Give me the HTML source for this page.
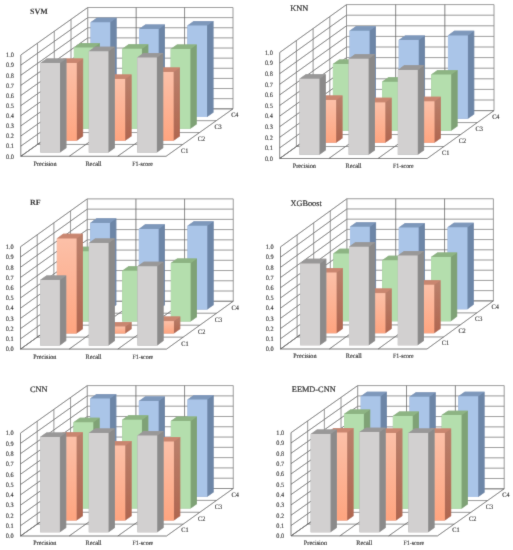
<!DOCTYPE html>
<html><head><meta charset="utf-8"><style>
html,body{margin:0;padding:0;background:#fff;width:513px;height:550px;overflow:hidden}
svg{display:block}
text{font-family:"Liberation Serif",serif;fill:#000;stroke:#000;stroke-width:0.09;text-rendering:geometricPrecision}
.t{font-weight:bold;stroke-width:0.02}
.r{stroke-width:0.16}
</style></head><body>
<svg width="513" height="550" viewBox="0 0 513 550">
<defs>
<linearGradient id="og" x1="0" y1="0" x2="0" y2="1"><stop offset="0" stop-color="#FCC0A8"/><stop offset="1" stop-color="#FEA47F"/></linearGradient>
<linearGradient id="os" x1="0" y1="0" x2="0" y2="1"><stop offset="0" stop-color="#BA806C"/><stop offset="1" stop-color="#B0664F"/></linearGradient>
<filter id="bl" x="0" y="0" width="513" height="550" filterUnits="userSpaceOnUse"><feConvolveMatrix order="3" kernelMatrix="0.0113 0.0838 0.0113 0.0838 0.6193 0.0838 0.0113 0.0838 0.0113" divisor="1" edgeMode="duplicate"/></filter>
</defs>
<rect width="513" height="550" fill="#fff"/>
<g filter="url(#bl)">
<rect width="513" height="550" fill="#fff"/>
<line x1="87.75" y1="108.8" x2="233" y2="108.8" stroke="#959595" stroke-width="1"/>
<line x1="87.75" y1="98.67" x2="233" y2="98.67" stroke="#959595" stroke-width="1"/>
<line x1="87.75" y1="88.54" x2="233" y2="88.54" stroke="#959595" stroke-width="1"/>
<line x1="87.75" y1="78.41" x2="233" y2="78.41" stroke="#959595" stroke-width="1"/>
<line x1="87.75" y1="68.28" x2="233" y2="68.28" stroke="#959595" stroke-width="1"/>
<line x1="87.75" y1="58.15" x2="233" y2="58.15" stroke="#959595" stroke-width="1"/>
<line x1="87.75" y1="48.02" x2="233" y2="48.02" stroke="#959595" stroke-width="1"/>
<line x1="87.75" y1="37.89" x2="233" y2="37.89" stroke="#959595" stroke-width="1"/>
<line x1="87.75" y1="27.76" x2="233" y2="27.76" stroke="#959595" stroke-width="1"/>
<line x1="87.75" y1="17.63" x2="233" y2="17.63" stroke="#959595" stroke-width="1"/>
<line x1="87.75" y1="7.5" x2="233" y2="7.5" stroke="#959595" stroke-width="1"/>
<line x1="136.17" y1="108.8" x2="136.17" y2="7.5" stroke="#6E6E6E" stroke-width="0.9"/>
<line x1="184.58" y1="108.8" x2="184.58" y2="7.5" stroke="#6E6E6E" stroke-width="0.9"/>
<line x1="233" y1="108.8" x2="233" y2="7.5" stroke="#8A8A8A" stroke-width="0.9"/>
<line x1="20.8" y1="156.3" x2="87.75" y2="108.8" stroke="#4A4A4A" stroke-width="0.8"/>
<line x1="20.8" y1="146.17" x2="87.75" y2="98.67" stroke="#4A4A4A" stroke-width="0.8"/>
<line x1="20.8" y1="136.04" x2="87.75" y2="88.54" stroke="#4A4A4A" stroke-width="0.8"/>
<line x1="20.8" y1="125.91" x2="87.75" y2="78.41" stroke="#4A4A4A" stroke-width="0.8"/>
<line x1="20.8" y1="115.78" x2="87.75" y2="68.28" stroke="#4A4A4A" stroke-width="0.8"/>
<line x1="20.8" y1="105.65" x2="87.75" y2="58.15" stroke="#4A4A4A" stroke-width="0.8"/>
<line x1="20.8" y1="95.52" x2="87.75" y2="48.02" stroke="#4A4A4A" stroke-width="0.8"/>
<line x1="20.8" y1="85.39" x2="87.75" y2="37.89" stroke="#4A4A4A" stroke-width="0.8"/>
<line x1="20.8" y1="75.26" x2="87.75" y2="27.76" stroke="#4A4A4A" stroke-width="0.8"/>
<line x1="20.8" y1="65.13" x2="87.75" y2="17.63" stroke="#4A4A4A" stroke-width="0.8"/>
<line x1="20.8" y1="55" x2="87.75" y2="7.5" stroke="#4A4A4A" stroke-width="0.8"/>
<line x1="20.8" y1="156.3" x2="20.8" y2="55" stroke="#555" stroke-width="0.8"/>
<line x1="37.54" y1="144.43" x2="37.54" y2="43.12" stroke="#777" stroke-width="0.8"/>
<line x1="54.28" y1="132.55" x2="54.28" y2="31.25" stroke="#777" stroke-width="0.8"/>
<line x1="71.01" y1="120.68" x2="71.01" y2="19.38" stroke="#777" stroke-width="0.8"/>
<line x1="87.75" y1="108.8" x2="87.75" y2="7.5" stroke="#8a8a8a" stroke-width="1.0"/>
<line x1="20.8" y1="156.3" x2="166.05" y2="156.3" stroke="#555" stroke-width="0.8"/>
<line x1="37.54" y1="144.43" x2="182.79" y2="144.43" stroke="#777" stroke-width="0.8"/>
<line x1="54.28" y1="132.55" x2="199.53" y2="132.55" stroke="#777" stroke-width="0.8"/>
<line x1="71.01" y1="120.68" x2="216.26" y2="120.68" stroke="#777" stroke-width="0.8"/>
<line x1="87.75" y1="108.8" x2="233" y2="108.8" stroke="#777" stroke-width="0.8"/>
<line x1="20.8" y1="156.3" x2="87.75" y2="108.8" stroke="#4A4A4A" stroke-width="0.8"/>
<line x1="69.22" y1="156.3" x2="136.17" y2="108.8" stroke="#4A4A4A" stroke-width="0.8"/>
<line x1="117.63" y1="156.3" x2="184.58" y2="108.8" stroke="#4A4A4A" stroke-width="0.8"/>
<line x1="166.05" y1="156.3" x2="233" y2="108.8" stroke="#4A4A4A" stroke-width="0.8"/>
<polygon points="90.61,116.99 110.21,116.99 116.57,112.48 116.57,17.64 96.97,17.64 90.61,22.15" fill="#7E98BB"/>
<polygon points="110.21,116.99 116.57,112.48 116.57,17.64 110.21,22.15" fill="#6D86A7"/>
<polygon points="90.61,22.15 110.21,22.15 116.57,17.64 96.97,17.64" fill="#7E98BB"/>
<polygon points="90.61,116.99 110.21,116.99 110.21,22.15 90.61,22.15" fill="#AAC5E8"/>
<polygon points="139.02,116.99 158.63,116.99 164.99,112.48 164.99,24.39 145.38,24.39 139.02,28.9" fill="#7E98BB"/>
<polygon points="158.63,116.99 164.99,112.48 164.99,24.39 158.63,28.9" fill="#6D86A7"/>
<polygon points="139.02,28.9 158.63,28.9 164.99,24.39 145.38,24.39" fill="#7E98BB"/>
<polygon points="139.02,116.99 158.63,116.99 158.63,28.9 139.02,28.9" fill="#AAC5E8"/>
<polygon points="187.44,116.99 207.05,116.99 213.41,112.48 213.41,21.09 193.8,21.09 187.44,25.6" fill="#7E98BB"/>
<polygon points="207.05,116.99 213.41,112.48 213.41,21.09 207.05,25.6" fill="#6D86A7"/>
<polygon points="187.44,25.6 207.05,25.6 213.41,21.09 193.8,21.09" fill="#7E98BB"/>
<polygon points="187.44,116.99 207.05,116.99 207.05,25.6 187.44,25.6" fill="#AAC5E8"/>
<polygon points="73.87,128.87 93.48,128.87 99.84,124.36 99.84,43.09 80.23,43.09 73.87,47.6" fill="#8DB483"/>
<polygon points="93.48,128.87 99.84,124.36 99.84,43.09 93.48,47.6" fill="#7FA276"/>
<polygon points="73.87,47.6 93.48,47.6 99.84,43.09 80.23,43.09" fill="#8DB483"/>
<polygon points="73.87,128.87 93.48,128.87 93.48,47.6 73.87,47.6" fill="#B4DEAD"/>
<polygon points="122.28,128.87 141.89,128.87 148.25,124.36 148.25,44.29 128.64,44.29 122.28,48.8" fill="#8DB483"/>
<polygon points="141.89,128.87 148.25,124.36 148.25,44.29 141.89,48.8" fill="#7FA276"/>
<polygon points="122.28,48.8 141.89,48.8 148.25,44.29 128.64,44.29" fill="#8DB483"/>
<polygon points="122.28,128.87 141.89,128.87 141.89,48.8 122.28,48.8" fill="#B4DEAD"/>
<polygon points="170.7,128.87 190.31,128.87 196.67,124.36 196.67,44.49 177.06,44.49 170.7,49" fill="#8DB483"/>
<polygon points="190.31,128.87 196.67,124.36 196.67,44.49 190.31,49" fill="#7FA276"/>
<polygon points="170.7,49 190.31,49 196.67,44.49 177.06,44.49" fill="#8DB483"/>
<polygon points="170.7,128.87 190.31,128.87 190.31,49 170.7,49" fill="#B4DEAD"/>
<polygon points="57.13,140.74 76.74,140.74 83.1,136.23 83.1,58.59 63.49,58.59 57.13,63.1" fill="#C98670"/>
<polygon points="76.74,140.74 83.1,136.23 83.1,58.59 76.74,63.1" fill="url(#os)"/>
<polygon points="57.13,63.1 76.74,63.1 83.1,58.59 63.49,58.59" fill="#C98670"/>
<polygon points="57.13,140.74 76.74,140.74 76.74,63.1 57.13,63.1" fill="url(#og)"/>
<polygon points="105.55,140.74 125.16,140.74 131.52,136.23 131.52,74.59 111.91,74.59 105.55,79.1" fill="#C98670"/>
<polygon points="125.16,140.74 131.52,136.23 131.52,74.59 125.16,79.1" fill="url(#os)"/>
<polygon points="105.55,79.1 125.16,79.1 131.52,74.59 111.91,74.59" fill="#C98670"/>
<polygon points="105.55,140.74 125.16,140.74 125.16,79.1 105.55,79.1" fill="url(#og)"/>
<polygon points="153.96,140.74 173.57,140.74 179.93,136.23 179.93,67.59 160.32,67.59 153.96,72.1" fill="#C98670"/>
<polygon points="173.57,140.74 179.93,136.23 179.93,67.59 173.57,72.1" fill="url(#os)"/>
<polygon points="153.96,72.1 173.57,72.1 179.93,67.59 160.32,67.59" fill="#C98670"/>
<polygon points="153.96,140.74 173.57,140.74 173.57,72.1 153.96,72.1" fill="url(#og)"/>
<polygon points="40.39,152.62 60,152.62 66.36,148.11 66.36,58.49 46.75,58.49 40.39,63" fill="#9a9999"/>
<polygon points="60,152.62 66.36,148.11 66.36,58.49 60,63" fill="#8B8A8A"/>
<polygon points="40.39,63 60,63 66.36,58.49 46.75,58.49" fill="#999898"/>
<polygon points="40.39,152.62 60,152.62 60,63 40.39,63" fill="#D2D0D0"/>
<polygon points="88.81,152.62 108.42,152.62 114.78,148.11 114.78,46.79 95.17,46.79 88.81,51.3" fill="#9a9999"/>
<polygon points="108.42,152.62 114.78,148.11 114.78,46.79 108.42,51.3" fill="#8B8A8A"/>
<polygon points="88.81,51.3 108.42,51.3 114.78,46.79 95.17,46.79" fill="#999898"/>
<polygon points="88.81,152.62 108.42,152.62 108.42,51.3 88.81,51.3" fill="#D2D0D0"/>
<polygon points="137.23,152.62 156.83,152.62 163.19,148.11 163.19,52.99 143.59,52.99 137.23,57.5" fill="#9a9999"/>
<polygon points="156.83,152.62 163.19,148.11 163.19,52.99 156.83,57.5" fill="#8B8A8A"/>
<polygon points="137.23,57.5 156.83,57.5 163.19,52.99 143.59,52.99" fill="#999898"/>
<polygon points="137.23,152.62 156.83,152.62 156.83,57.5 137.23,57.5" fill="#D2D0D0"/>
<text transform="translate(13.9,158.6) scale(0.9500,1)" font-size="6.60" text-anchor="end">0.0</text>
<text transform="translate(13.9,148.47) scale(0.9500,1)" font-size="6.60" text-anchor="end">0.1</text>
<text transform="translate(13.9,138.34) scale(0.9500,1)" font-size="6.60" text-anchor="end">0.2</text>
<text transform="translate(13.9,128.21) scale(0.9500,1)" font-size="6.60" text-anchor="end">0.3</text>
<text transform="translate(13.9,118.08) scale(0.9500,1)" font-size="6.60" text-anchor="end">0.4</text>
<text transform="translate(13.9,107.95) scale(0.9500,1)" font-size="6.60" text-anchor="end">0.5</text>
<text transform="translate(13.9,97.82) scale(0.9500,1)" font-size="6.60" text-anchor="end">0.6</text>
<text transform="translate(13.9,87.69) scale(0.9500,1)" font-size="6.60" text-anchor="end">0.7</text>
<text transform="translate(13.9,77.56) scale(0.9500,1)" font-size="6.60" text-anchor="end">0.8</text>
<text transform="translate(13.9,67.43) scale(0.9500,1)" font-size="6.60" text-anchor="end">0.9</text>
<text transform="translate(13.9,57.3) scale(0.9500,1)" font-size="6.60" text-anchor="end">1.0</text>
<text transform="translate(45.01,165.7) scale(0.9300,1)" font-size="6.70" text-anchor="middle">Precision</text>
<text transform="translate(93.42,165.7) scale(0.9300,1)" font-size="6.70" text-anchor="middle">Recall</text>
<text transform="translate(142.54,165.7) scale(0.9000,1)" font-size="6.60" text-anchor="middle">F1-score</text>
<text transform="translate(180.92,152.76) scale(0.9300,1)" font-size="6.80" text-anchor="start">C1</text>
<text transform="translate(197.66,140.89) scale(0.9300,1)" font-size="6.80" text-anchor="start">C2</text>
<text transform="translate(214.39,129.01) scale(0.9300,1)" font-size="6.80" text-anchor="start">C3</text>
<text transform="translate(231.13,117.14) scale(0.9300,1)" font-size="6.80" text-anchor="start">C4</text>
<text transform="translate(30,14.2) scale(1.0000,1)" font-size="8.00" text-anchor="start" class="t">SVM</text>
<line x1="346.5" y1="110.6" x2="494" y2="110.6" stroke="#959595" stroke-width="1"/>
<line x1="346.5" y1="100" x2="494" y2="100" stroke="#959595" stroke-width="1"/>
<line x1="346.5" y1="89.4" x2="494" y2="89.4" stroke="#959595" stroke-width="1"/>
<line x1="346.5" y1="78.8" x2="494" y2="78.8" stroke="#959595" stroke-width="1"/>
<line x1="346.5" y1="68.2" x2="494" y2="68.2" stroke="#959595" stroke-width="1"/>
<line x1="346.5" y1="57.6" x2="494" y2="57.6" stroke="#959595" stroke-width="1"/>
<line x1="346.5" y1="47" x2="494" y2="47" stroke="#959595" stroke-width="1"/>
<line x1="346.5" y1="36.4" x2="494" y2="36.4" stroke="#959595" stroke-width="1"/>
<line x1="346.5" y1="25.8" x2="494" y2="25.8" stroke="#959595" stroke-width="1"/>
<line x1="346.5" y1="15.2" x2="494" y2="15.2" stroke="#959595" stroke-width="1"/>
<line x1="346.5" y1="4.6" x2="494" y2="4.6" stroke="#959595" stroke-width="1"/>
<line x1="395.67" y1="110.6" x2="395.67" y2="4.6" stroke="#6E6E6E" stroke-width="0.9"/>
<line x1="444.83" y1="110.6" x2="444.83" y2="4.6" stroke="#6E6E6E" stroke-width="0.9"/>
<line x1="494" y1="110.6" x2="494" y2="4.6" stroke="#8A8A8A" stroke-width="0.9"/>
<line x1="279.7" y1="158.5" x2="346.5" y2="110.6" stroke="#4A4A4A" stroke-width="0.8"/>
<line x1="279.7" y1="147.9" x2="346.5" y2="100" stroke="#4A4A4A" stroke-width="0.8"/>
<line x1="279.7" y1="137.3" x2="346.5" y2="89.4" stroke="#4A4A4A" stroke-width="0.8"/>
<line x1="279.7" y1="126.7" x2="346.5" y2="78.8" stroke="#4A4A4A" stroke-width="0.8"/>
<line x1="279.7" y1="116.1" x2="346.5" y2="68.2" stroke="#4A4A4A" stroke-width="0.8"/>
<line x1="279.7" y1="105.5" x2="346.5" y2="57.6" stroke="#4A4A4A" stroke-width="0.8"/>
<line x1="279.7" y1="94.9" x2="346.5" y2="47" stroke="#4A4A4A" stroke-width="0.8"/>
<line x1="279.7" y1="84.3" x2="346.5" y2="36.4" stroke="#4A4A4A" stroke-width="0.8"/>
<line x1="279.7" y1="73.7" x2="346.5" y2="25.8" stroke="#4A4A4A" stroke-width="0.8"/>
<line x1="279.7" y1="63.1" x2="346.5" y2="15.2" stroke="#4A4A4A" stroke-width="0.8"/>
<line x1="279.7" y1="52.5" x2="346.5" y2="4.6" stroke="#4A4A4A" stroke-width="0.8"/>
<line x1="279.7" y1="158.5" x2="279.7" y2="52.5" stroke="#555" stroke-width="0.8"/>
<line x1="296.4" y1="146.53" x2="296.4" y2="40.53" stroke="#777" stroke-width="0.8"/>
<line x1="313.1" y1="134.55" x2="313.1" y2="28.55" stroke="#777" stroke-width="0.8"/>
<line x1="329.8" y1="122.58" x2="329.8" y2="16.58" stroke="#777" stroke-width="0.8"/>
<line x1="346.5" y1="110.6" x2="346.5" y2="4.6" stroke="#8a8a8a" stroke-width="1.0"/>
<line x1="279.7" y1="158.5" x2="427.2" y2="158.5" stroke="#555" stroke-width="0.8"/>
<line x1="296.4" y1="146.53" x2="443.9" y2="146.53" stroke="#777" stroke-width="0.8"/>
<line x1="313.1" y1="134.55" x2="460.6" y2="134.55" stroke="#777" stroke-width="0.8"/>
<line x1="329.8" y1="122.58" x2="477.3" y2="122.58" stroke="#777" stroke-width="0.8"/>
<line x1="346.5" y1="110.6" x2="494" y2="110.6" stroke="#777" stroke-width="0.8"/>
<line x1="279.7" y1="158.5" x2="346.5" y2="110.6" stroke="#4A4A4A" stroke-width="0.8"/>
<line x1="328.87" y1="158.5" x2="395.67" y2="110.6" stroke="#4A4A4A" stroke-width="0.8"/>
<line x1="378.03" y1="158.5" x2="444.83" y2="110.6" stroke="#4A4A4A" stroke-width="0.8"/>
<line x1="427.2" y1="158.5" x2="494" y2="110.6" stroke="#4A4A4A" stroke-width="0.8"/>
<polygon points="349.6,118.86 369.52,118.86 375.86,114.31 375.86,26.25 355.95,26.25 349.6,30.8" fill="#7E98BB"/>
<polygon points="369.52,118.86 375.86,114.31 375.86,26.25 369.52,30.8" fill="#6D86A7"/>
<polygon points="349.6,30.8 369.52,30.8 375.86,26.25 355.95,26.25" fill="#7E98BB"/>
<polygon points="349.6,118.86 369.52,118.86 369.52,30.8 349.6,30.8" fill="#AAC5E8"/>
<polygon points="398.77,118.86 418.68,118.86 425.03,114.31 425.03,35.45 405.12,35.45 398.77,40" fill="#7E98BB"/>
<polygon points="418.68,118.86 425.03,114.31 425.03,35.45 418.68,40" fill="#6D86A7"/>
<polygon points="398.77,40 418.68,40 425.03,35.45 405.12,35.45" fill="#7E98BB"/>
<polygon points="398.77,118.86 418.68,118.86 418.68,40 398.77,40" fill="#AAC5E8"/>
<polygon points="447.94,118.86 467.85,118.86 474.2,114.31 474.2,30.85 454.28,30.85 447.94,35.4" fill="#7E98BB"/>
<polygon points="467.85,118.86 474.2,114.31 474.2,30.85 467.85,35.4" fill="#6D86A7"/>
<polygon points="447.94,35.4 467.85,35.4 474.2,30.85 454.28,30.85" fill="#7E98BB"/>
<polygon points="447.94,118.86 467.85,118.86 467.85,35.4 447.94,35.4" fill="#AAC5E8"/>
<polygon points="332.9,130.84 352.82,130.84 359.16,126.29 359.16,59.45 339.25,59.45 332.9,64" fill="#8DB483"/>
<polygon points="352.82,130.84 359.16,126.29 359.16,59.45 352.82,64" fill="#7FA276"/>
<polygon points="332.9,64 352.82,64 359.16,59.45 339.25,59.45" fill="#8DB483"/>
<polygon points="332.9,130.84 352.82,130.84 352.82,64 332.9,64" fill="#B4DEAD"/>
<polygon points="382.07,130.84 401.98,130.84 408.33,126.29 408.33,77.25 388.42,77.25 382.07,81.8" fill="#8DB483"/>
<polygon points="401.98,130.84 408.33,126.29 408.33,77.25 401.98,81.8" fill="#7FA276"/>
<polygon points="382.07,81.8 401.98,81.8 408.33,77.25 388.42,77.25" fill="#8DB483"/>
<polygon points="382.07,130.84 401.98,130.84 401.98,81.8 382.07,81.8" fill="#B4DEAD"/>
<polygon points="431.24,130.84 451.15,130.84 457.5,126.29 457.5,70.05 437.58,70.05 431.24,74.6" fill="#8DB483"/>
<polygon points="451.15,130.84 457.5,126.29 457.5,70.05 451.15,74.6" fill="#7FA276"/>
<polygon points="431.24,74.6 451.15,74.6 457.5,70.05 437.58,70.05" fill="#8DB483"/>
<polygon points="431.24,130.84 451.15,130.84 451.15,74.6 431.24,74.6" fill="#B4DEAD"/>
<polygon points="316.2,142.81 336.12,142.81 342.46,138.26 342.46,95.45 322.55,95.45 316.2,100" fill="#C98670"/>
<polygon points="336.12,142.81 342.46,138.26 342.46,95.45 336.12,100" fill="url(#os)"/>
<polygon points="316.2,100 336.12,100 342.46,95.45 322.55,95.45" fill="#C98670"/>
<polygon points="316.2,142.81 336.12,142.81 336.12,100 316.2,100" fill="url(#og)"/>
<polygon points="365.37,142.81 385.28,142.81 391.63,138.26 391.63,97.85 371.72,97.85 365.37,102.4" fill="#C98670"/>
<polygon points="385.28,142.81 391.63,138.26 391.63,97.85 385.28,102.4" fill="url(#os)"/>
<polygon points="365.37,102.4 385.28,102.4 391.63,97.85 371.72,97.85" fill="#C98670"/>
<polygon points="365.37,142.81 385.28,142.81 385.28,102.4 365.37,102.4" fill="url(#og)"/>
<polygon points="414.54,142.81 434.45,142.81 440.8,138.26 440.8,96.75 420.88,96.75 414.54,101.3" fill="#C98670"/>
<polygon points="434.45,142.81 440.8,138.26 440.8,96.75 434.45,101.3" fill="url(#os)"/>
<polygon points="414.54,101.3 434.45,101.3 440.8,96.75 420.88,96.75" fill="#C98670"/>
<polygon points="414.54,142.81 434.45,142.81 434.45,101.3 414.54,101.3" fill="url(#og)"/>
<polygon points="299.5,154.79 319.42,154.79 325.76,150.24 325.76,74.25 305.85,74.25 299.5,78.8" fill="#9a9999"/>
<polygon points="319.42,154.79 325.76,150.24 325.76,74.25 319.42,78.8" fill="#8B8A8A"/>
<polygon points="299.5,78.8 319.42,78.8 325.76,74.25 305.85,74.25" fill="#999898"/>
<polygon points="299.5,154.79 319.42,154.79 319.42,78.8 299.5,78.8" fill="#D2D0D0"/>
<polygon points="348.67,154.79 368.58,154.79 374.93,150.24 374.93,54.15 355.02,54.15 348.67,58.7" fill="#9a9999"/>
<polygon points="368.58,154.79 374.93,150.24 374.93,54.15 368.58,58.7" fill="#8B8A8A"/>
<polygon points="348.67,58.7 368.58,58.7 374.93,54.15 355.02,54.15" fill="#999898"/>
<polygon points="348.67,154.79 368.58,154.79 368.58,58.7 348.67,58.7" fill="#D2D0D0"/>
<polygon points="397.84,154.79 417.75,154.79 424.1,150.24 424.1,65.35 404.18,65.35 397.84,69.9" fill="#9a9999"/>
<polygon points="417.75,154.79 424.1,150.24 424.1,65.35 417.75,69.9" fill="#8B8A8A"/>
<polygon points="397.84,69.9 417.75,69.9 424.1,65.35 404.18,65.35" fill="#999898"/>
<polygon points="397.84,154.79 417.75,154.79 417.75,69.9 397.84,69.9" fill="#D2D0D0"/>
<text transform="translate(272.8,160.8) scale(0.9500,1)" font-size="6.60" text-anchor="end">0.0</text>
<text transform="translate(272.8,150.2) scale(0.9500,1)" font-size="6.60" text-anchor="end">0.1</text>
<text transform="translate(272.8,139.6) scale(0.9500,1)" font-size="6.60" text-anchor="end">0.2</text>
<text transform="translate(272.8,129) scale(0.9500,1)" font-size="6.60" text-anchor="end">0.3</text>
<text transform="translate(272.8,118.4) scale(0.9500,1)" font-size="6.60" text-anchor="end">0.4</text>
<text transform="translate(272.8,107.8) scale(0.9500,1)" font-size="6.60" text-anchor="end">0.5</text>
<text transform="translate(272.8,97.2) scale(0.9500,1)" font-size="6.60" text-anchor="end">0.6</text>
<text transform="translate(272.8,86.6) scale(0.9500,1)" font-size="6.60" text-anchor="end">0.7</text>
<text transform="translate(272.8,76) scale(0.9500,1)" font-size="6.60" text-anchor="end">0.8</text>
<text transform="translate(272.8,65.4) scale(0.9500,1)" font-size="6.60" text-anchor="end">0.9</text>
<text transform="translate(272.8,54.8) scale(0.9500,1)" font-size="6.60" text-anchor="end">1.0</text>
<text transform="translate(304.28,167.9) scale(0.9300,1)" font-size="6.70" text-anchor="middle">Precision</text>
<text transform="translate(353.45,167.9) scale(0.9300,1)" font-size="6.70" text-anchor="middle">Recall</text>
<text transform="translate(403.32,167.9) scale(0.9000,1)" font-size="6.60" text-anchor="middle">F1-score</text>
<text transform="translate(442.05,154.91) scale(0.9300,1)" font-size="6.80" text-anchor="start">C1</text>
<text transform="translate(458.75,142.94) scale(0.9300,1)" font-size="6.80" text-anchor="start">C2</text>
<text transform="translate(475.45,130.96) scale(0.9300,1)" font-size="6.80" text-anchor="start">C3</text>
<text transform="translate(492.15,118.99) scale(0.9300,1)" font-size="6.80" text-anchor="start">C4</text>
<text transform="translate(290.2,10.9) scale(1.0000,1)" font-size="8.30" text-anchor="start" class="r">KNN</text>
<line x1="87.25" y1="301.25" x2="233.25" y2="301.25" stroke="#959595" stroke-width="1"/>
<line x1="87.25" y1="291.01" x2="233.25" y2="291.01" stroke="#959595" stroke-width="1"/>
<line x1="87.25" y1="280.78" x2="233.25" y2="280.78" stroke="#959595" stroke-width="1"/>
<line x1="87.25" y1="270.55" x2="233.25" y2="270.55" stroke="#959595" stroke-width="1"/>
<line x1="87.25" y1="260.31" x2="233.25" y2="260.31" stroke="#959595" stroke-width="1"/>
<line x1="87.25" y1="250.07" x2="233.25" y2="250.07" stroke="#959595" stroke-width="1"/>
<line x1="87.25" y1="239.84" x2="233.25" y2="239.84" stroke="#959595" stroke-width="1"/>
<line x1="87.25" y1="229.6" x2="233.25" y2="229.6" stroke="#959595" stroke-width="1"/>
<line x1="87.25" y1="219.37" x2="233.25" y2="219.37" stroke="#959595" stroke-width="1"/>
<line x1="87.25" y1="209.13" x2="233.25" y2="209.13" stroke="#959595" stroke-width="1"/>
<line x1="87.25" y1="198.9" x2="233.25" y2="198.9" stroke="#959595" stroke-width="1"/>
<line x1="135.92" y1="301.25" x2="135.92" y2="198.9" stroke="#6E6E6E" stroke-width="0.9"/>
<line x1="184.58" y1="301.25" x2="184.58" y2="198.9" stroke="#6E6E6E" stroke-width="0.9"/>
<line x1="233.25" y1="301.25" x2="233.25" y2="198.9" stroke="#8A8A8A" stroke-width="0.9"/>
<line x1="20.5" y1="349.1" x2="87.25" y2="301.25" stroke="#4A4A4A" stroke-width="0.8"/>
<line x1="20.5" y1="338.87" x2="87.25" y2="291.01" stroke="#4A4A4A" stroke-width="0.8"/>
<line x1="20.5" y1="328.63" x2="87.25" y2="280.78" stroke="#4A4A4A" stroke-width="0.8"/>
<line x1="20.5" y1="318.4" x2="87.25" y2="270.55" stroke="#4A4A4A" stroke-width="0.8"/>
<line x1="20.5" y1="308.16" x2="87.25" y2="260.31" stroke="#4A4A4A" stroke-width="0.8"/>
<line x1="20.5" y1="297.93" x2="87.25" y2="250.07" stroke="#4A4A4A" stroke-width="0.8"/>
<line x1="20.5" y1="287.69" x2="87.25" y2="239.84" stroke="#4A4A4A" stroke-width="0.8"/>
<line x1="20.5" y1="277.46" x2="87.25" y2="229.6" stroke="#4A4A4A" stroke-width="0.8"/>
<line x1="20.5" y1="267.22" x2="87.25" y2="219.37" stroke="#4A4A4A" stroke-width="0.8"/>
<line x1="20.5" y1="256.99" x2="87.25" y2="209.13" stroke="#4A4A4A" stroke-width="0.8"/>
<line x1="20.5" y1="246.75" x2="87.25" y2="198.9" stroke="#4A4A4A" stroke-width="0.8"/>
<line x1="20.5" y1="349.1" x2="20.5" y2="246.75" stroke="#555" stroke-width="0.8"/>
<line x1="37.19" y1="337.14" x2="37.19" y2="234.79" stroke="#777" stroke-width="0.8"/>
<line x1="53.88" y1="325.18" x2="53.88" y2="222.82" stroke="#777" stroke-width="0.8"/>
<line x1="70.56" y1="313.21" x2="70.56" y2="210.86" stroke="#777" stroke-width="0.8"/>
<line x1="87.25" y1="301.25" x2="87.25" y2="198.9" stroke="#8a8a8a" stroke-width="1.0"/>
<line x1="20.5" y1="349.1" x2="166.5" y2="349.1" stroke="#555" stroke-width="0.8"/>
<line x1="37.19" y1="337.14" x2="183.19" y2="337.14" stroke="#777" stroke-width="0.8"/>
<line x1="53.88" y1="325.18" x2="199.88" y2="325.18" stroke="#777" stroke-width="0.8"/>
<line x1="70.56" y1="313.21" x2="216.56" y2="313.21" stroke="#777" stroke-width="0.8"/>
<line x1="87.25" y1="301.25" x2="233.25" y2="301.25" stroke="#777" stroke-width="0.8"/>
<line x1="20.5" y1="349.1" x2="87.25" y2="301.25" stroke="#4A4A4A" stroke-width="0.8"/>
<line x1="69.17" y1="349.1" x2="135.92" y2="301.25" stroke="#4A4A4A" stroke-width="0.8"/>
<line x1="117.83" y1="349.1" x2="184.58" y2="301.25" stroke="#4A4A4A" stroke-width="0.8"/>
<line x1="166.5" y1="349.1" x2="233.25" y2="301.25" stroke="#4A4A4A" stroke-width="0.8"/>
<polygon points="90.21,309.5 109.92,309.5 116.27,304.96 116.27,218.35 96.56,218.35 90.21,222.9" fill="#7E98BB"/>
<polygon points="109.92,309.5 116.27,304.96 116.27,218.35 109.92,222.9" fill="#6D86A7"/>
<polygon points="90.21,222.9 109.92,222.9 116.27,218.35 96.56,218.35" fill="#7E98BB"/>
<polygon points="90.21,309.5 109.92,309.5 109.92,222.9 90.21,222.9" fill="#AAC5E8"/>
<polygon points="138.88,309.5 158.59,309.5 164.93,304.96 164.93,224.35 145.22,224.35 138.88,228.9" fill="#7E98BB"/>
<polygon points="158.59,309.5 164.93,304.96 164.93,224.35 158.59,228.9" fill="#6D86A7"/>
<polygon points="138.88,228.9 158.59,228.9 164.93,224.35 145.22,224.35" fill="#7E98BB"/>
<polygon points="138.88,309.5 158.59,309.5 158.59,228.9 138.88,228.9" fill="#AAC5E8"/>
<polygon points="187.55,309.5 207.26,309.5 213.6,304.96 213.6,221.25 193.89,221.25 187.55,225.8" fill="#7E98BB"/>
<polygon points="207.26,309.5 213.6,304.96 213.6,221.25 207.26,225.8" fill="#6D86A7"/>
<polygon points="187.55,225.8 207.26,225.8 213.6,221.25 193.89,221.25" fill="#7E98BB"/>
<polygon points="187.55,309.5 207.26,309.5 207.26,225.8 187.55,225.8" fill="#AAC5E8"/>
<polygon points="73.53,321.47 93.24,321.47 99.58,316.92 99.58,246.75 79.87,246.75 73.53,251.3" fill="#8DB483"/>
<polygon points="93.24,321.47 99.58,316.92 99.58,246.75 93.24,251.3" fill="#7FA276"/>
<polygon points="73.53,251.3 93.24,251.3 99.58,246.75 79.87,246.75" fill="#8DB483"/>
<polygon points="73.53,321.47 93.24,321.47 93.24,251.3 73.53,251.3" fill="#B4DEAD"/>
<polygon points="122.19,321.47 141.9,321.47 148.24,316.92 148.24,266.15 128.53,266.15 122.19,270.7" fill="#8DB483"/>
<polygon points="141.9,321.47 148.24,316.92 148.24,266.15 141.9,270.7" fill="#7FA276"/>
<polygon points="122.19,270.7 141.9,270.7 148.24,266.15 128.53,266.15" fill="#8DB483"/>
<polygon points="122.19,321.47 141.9,321.47 141.9,270.7 122.19,270.7" fill="#B4DEAD"/>
<polygon points="170.86,321.47 190.57,321.47 196.91,316.92 196.91,258.55 177.2,258.55 170.86,263.1" fill="#8DB483"/>
<polygon points="190.57,321.47 196.91,316.92 196.91,258.55 190.57,263.1" fill="#7FA276"/>
<polygon points="170.86,263.1 190.57,263.1 196.91,258.55 177.2,258.55" fill="#8DB483"/>
<polygon points="170.86,321.47 190.57,321.47 190.57,263.1 170.86,263.1" fill="#B4DEAD"/>
<polygon points="56.84,333.43 76.55,333.43 82.89,328.88 82.89,233.85 63.18,233.85 56.84,238.4" fill="#C98670"/>
<polygon points="76.55,333.43 82.89,328.88 82.89,233.85 76.55,238.4" fill="url(#os)"/>
<polygon points="56.84,238.4 76.55,238.4 82.89,233.85 63.18,233.85" fill="#C98670"/>
<polygon points="56.84,333.43 76.55,333.43 76.55,238.4 56.84,238.4" fill="url(#og)"/>
<polygon points="105.51,333.43 125.22,333.43 131.56,328.88 131.56,321.95 111.85,321.95 105.51,326.5" fill="#C98670"/>
<polygon points="125.22,333.43 131.56,328.88 131.56,321.95 125.22,326.5" fill="url(#os)"/>
<polygon points="105.51,326.5 125.22,326.5 131.56,321.95 111.85,321.95" fill="#C98670"/>
<polygon points="105.51,333.43 125.22,333.43 125.22,326.5 105.51,326.5" fill="url(#og)"/>
<polygon points="154.17,333.43 173.88,333.43 180.22,328.88 180.22,316.55 160.51,316.55 154.17,321.1" fill="#C98670"/>
<polygon points="173.88,333.43 180.22,328.88 180.22,316.55 173.88,321.1" fill="url(#os)"/>
<polygon points="154.17,321.1 173.88,321.1 180.22,316.55 160.51,316.55" fill="#C98670"/>
<polygon points="154.17,333.43 173.88,333.43 173.88,321.1 154.17,321.1" fill="url(#og)"/>
<polygon points="40.15,345.39 59.86,345.39 66.2,340.85 66.2,275.45 46.49,275.45 40.15,280" fill="#9a9999"/>
<polygon points="59.86,345.39 66.2,340.85 66.2,275.45 59.86,280" fill="#8B8A8A"/>
<polygon points="40.15,280 59.86,280 66.2,275.45 46.49,275.45" fill="#999898"/>
<polygon points="40.15,345.39 59.86,345.39 59.86,280 40.15,280" fill="#D2D0D0"/>
<polygon points="88.82,345.39 108.53,345.39 114.87,340.85 114.87,238.55 95.16,238.55 88.82,243.1" fill="#9a9999"/>
<polygon points="108.53,345.39 114.87,340.85 114.87,238.55 108.53,243.1" fill="#8B8A8A"/>
<polygon points="88.82,243.1 108.53,243.1 114.87,238.55 95.16,238.55" fill="#999898"/>
<polygon points="88.82,345.39 108.53,345.39 108.53,243.1 88.82,243.1" fill="#D2D0D0"/>
<polygon points="137.48,345.39 157.19,345.39 163.54,340.85 163.54,261.65 143.83,261.65 137.48,266.2" fill="#9a9999"/>
<polygon points="157.19,345.39 163.54,340.85 163.54,261.65 157.19,266.2" fill="#8B8A8A"/>
<polygon points="137.48,266.2 157.19,266.2 163.54,261.65 143.83,261.65" fill="#999898"/>
<polygon points="137.48,345.39 157.19,345.39 157.19,266.2 137.48,266.2" fill="#D2D0D0"/>
<text transform="translate(13.6,351.4) scale(0.9500,1)" font-size="6.60" text-anchor="end">0.0</text>
<text transform="translate(13.6,341.17) scale(0.9500,1)" font-size="6.60" text-anchor="end">0.1</text>
<text transform="translate(13.6,330.93) scale(0.9500,1)" font-size="6.60" text-anchor="end">0.2</text>
<text transform="translate(13.6,320.7) scale(0.9500,1)" font-size="6.60" text-anchor="end">0.3</text>
<text transform="translate(13.6,310.46) scale(0.9500,1)" font-size="6.60" text-anchor="end">0.4</text>
<text transform="translate(13.6,300.23) scale(0.9500,1)" font-size="6.60" text-anchor="end">0.5</text>
<text transform="translate(13.6,289.99) scale(0.9500,1)" font-size="6.60" text-anchor="end">0.6</text>
<text transform="translate(13.6,279.76) scale(0.9500,1)" font-size="6.60" text-anchor="end">0.7</text>
<text transform="translate(13.6,269.52) scale(0.9500,1)" font-size="6.60" text-anchor="end">0.8</text>
<text transform="translate(13.6,259.29) scale(0.9500,1)" font-size="6.60" text-anchor="end">0.9</text>
<text transform="translate(13.6,249.05) scale(0.9500,1)" font-size="6.60" text-anchor="end">1.0</text>
<text transform="translate(44.83,358.5) scale(0.9300,1)" font-size="6.70" text-anchor="middle">Precision</text>
<text transform="translate(93.5,358.5) scale(0.9300,1)" font-size="6.70" text-anchor="middle">Recall</text>
<text transform="translate(142.87,358.5) scale(0.9000,1)" font-size="6.60" text-anchor="middle">F1-score</text>
<text transform="translate(181.34,345.52) scale(0.9300,1)" font-size="6.80" text-anchor="start">C1</text>
<text transform="translate(198.03,333.56) scale(0.9300,1)" font-size="6.80" text-anchor="start">C2</text>
<text transform="translate(214.72,321.59) scale(0.9300,1)" font-size="6.80" text-anchor="start">C3</text>
<text transform="translate(231.41,309.63) scale(0.9300,1)" font-size="6.80" text-anchor="start">C4</text>
<text transform="translate(30,205.3) scale(1.0000,1)" font-size="8.00" text-anchor="start" class="t">RF</text>
<line x1="346.9" y1="300.85" x2="493.4" y2="300.85" stroke="#959595" stroke-width="1"/>
<line x1="346.9" y1="290.64" x2="493.4" y2="290.64" stroke="#959595" stroke-width="1"/>
<line x1="346.9" y1="280.43" x2="493.4" y2="280.43" stroke="#959595" stroke-width="1"/>
<line x1="346.9" y1="270.22" x2="493.4" y2="270.22" stroke="#959595" stroke-width="1"/>
<line x1="346.9" y1="260.01" x2="493.4" y2="260.01" stroke="#959595" stroke-width="1"/>
<line x1="346.9" y1="249.8" x2="493.4" y2="249.8" stroke="#959595" stroke-width="1"/>
<line x1="346.9" y1="239.59" x2="493.4" y2="239.59" stroke="#959595" stroke-width="1"/>
<line x1="346.9" y1="229.38" x2="493.4" y2="229.38" stroke="#959595" stroke-width="1"/>
<line x1="346.9" y1="219.17" x2="493.4" y2="219.17" stroke="#959595" stroke-width="1"/>
<line x1="346.9" y1="208.96" x2="493.4" y2="208.96" stroke="#959595" stroke-width="1"/>
<line x1="346.9" y1="198.75" x2="493.4" y2="198.75" stroke="#959595" stroke-width="1"/>
<line x1="395.73" y1="300.85" x2="395.73" y2="198.75" stroke="#6E6E6E" stroke-width="0.9"/>
<line x1="444.57" y1="300.85" x2="444.57" y2="198.75" stroke="#6E6E6E" stroke-width="0.9"/>
<line x1="493.4" y1="300.85" x2="493.4" y2="198.75" stroke="#8A8A8A" stroke-width="0.9"/>
<line x1="280.5" y1="349" x2="346.9" y2="300.85" stroke="#4A4A4A" stroke-width="0.8"/>
<line x1="280.5" y1="338.79" x2="346.9" y2="290.64" stroke="#4A4A4A" stroke-width="0.8"/>
<line x1="280.5" y1="328.58" x2="346.9" y2="280.43" stroke="#4A4A4A" stroke-width="0.8"/>
<line x1="280.5" y1="318.37" x2="346.9" y2="270.22" stroke="#4A4A4A" stroke-width="0.8"/>
<line x1="280.5" y1="308.16" x2="346.9" y2="260.01" stroke="#4A4A4A" stroke-width="0.8"/>
<line x1="280.5" y1="297.95" x2="346.9" y2="249.8" stroke="#4A4A4A" stroke-width="0.8"/>
<line x1="280.5" y1="287.74" x2="346.9" y2="239.59" stroke="#4A4A4A" stroke-width="0.8"/>
<line x1="280.5" y1="277.53" x2="346.9" y2="229.38" stroke="#4A4A4A" stroke-width="0.8"/>
<line x1="280.5" y1="267.32" x2="346.9" y2="219.17" stroke="#4A4A4A" stroke-width="0.8"/>
<line x1="280.5" y1="257.11" x2="346.9" y2="208.96" stroke="#4A4A4A" stroke-width="0.8"/>
<line x1="280.5" y1="246.9" x2="346.9" y2="198.75" stroke="#4A4A4A" stroke-width="0.8"/>
<line x1="280.5" y1="349" x2="280.5" y2="246.9" stroke="#555" stroke-width="0.8"/>
<line x1="297.1" y1="336.96" x2="297.1" y2="234.86" stroke="#777" stroke-width="0.8"/>
<line x1="313.7" y1="324.93" x2="313.7" y2="222.83" stroke="#777" stroke-width="0.8"/>
<line x1="330.3" y1="312.89" x2="330.3" y2="210.79" stroke="#777" stroke-width="0.8"/>
<line x1="346.9" y1="300.85" x2="346.9" y2="198.75" stroke="#8a8a8a" stroke-width="1.0"/>
<line x1="280.5" y1="349" x2="427" y2="349" stroke="#555" stroke-width="0.8"/>
<line x1="297.1" y1="336.96" x2="443.6" y2="336.96" stroke="#777" stroke-width="0.8"/>
<line x1="313.7" y1="324.93" x2="460.2" y2="324.93" stroke="#777" stroke-width="0.8"/>
<line x1="330.3" y1="312.89" x2="476.8" y2="312.89" stroke="#777" stroke-width="0.8"/>
<line x1="346.9" y1="300.85" x2="493.4" y2="300.85" stroke="#777" stroke-width="0.8"/>
<line x1="280.5" y1="349" x2="346.9" y2="300.85" stroke="#4A4A4A" stroke-width="0.8"/>
<line x1="329.33" y1="349" x2="395.73" y2="300.85" stroke="#4A4A4A" stroke-width="0.8"/>
<line x1="378.17" y1="349" x2="444.57" y2="300.85" stroke="#4A4A4A" stroke-width="0.8"/>
<line x1="427" y1="349" x2="493.4" y2="300.85" stroke="#4A4A4A" stroke-width="0.8"/>
<polygon points="349.97,309.16 369.75,309.16 376.06,304.58 376.06,222.23 356.28,222.23 349.97,226.8" fill="#7E98BB"/>
<polygon points="369.75,309.16 376.06,304.58 376.06,222.23 369.75,226.8" fill="#6D86A7"/>
<polygon points="349.97,226.8 369.75,226.8 376.06,222.23 356.28,222.23" fill="#7E98BB"/>
<polygon points="349.97,309.16 369.75,309.16 369.75,226.8 349.97,226.8" fill="#AAC5E8"/>
<polygon points="398.81,309.16 418.58,309.16 424.89,304.58 424.89,222.93 405.12,222.93 398.81,227.5" fill="#7E98BB"/>
<polygon points="418.58,309.16 424.89,304.58 424.89,222.93 418.58,227.5" fill="#6D86A7"/>
<polygon points="398.81,227.5 418.58,227.5 424.89,222.93 405.12,222.93" fill="#7E98BB"/>
<polygon points="398.81,309.16 418.58,309.16 418.58,227.5 398.81,227.5" fill="#AAC5E8"/>
<polygon points="447.64,309.16 467.42,309.16 473.73,304.58 473.73,222.73 453.95,222.73 447.64,227.3" fill="#7E98BB"/>
<polygon points="467.42,309.16 473.73,304.58 473.73,222.73 467.42,227.3" fill="#6D86A7"/>
<polygon points="447.64,227.3 467.42,227.3 473.73,222.73 453.95,222.73" fill="#7E98BB"/>
<polygon points="447.64,309.16 467.42,309.16 467.42,227.3 447.64,227.3" fill="#AAC5E8"/>
<polygon points="333.37,321.19 353.15,321.19 359.46,316.62 359.46,248.83 339.68,248.83 333.37,253.4" fill="#8DB483"/>
<polygon points="353.15,321.19 359.46,316.62 359.46,248.83 353.15,253.4" fill="#7FA276"/>
<polygon points="333.37,253.4 353.15,253.4 359.46,248.83 339.68,248.83" fill="#8DB483"/>
<polygon points="333.37,321.19 353.15,321.19 353.15,253.4 333.37,253.4" fill="#B4DEAD"/>
<polygon points="382.21,321.19 401.98,321.19 408.29,316.62 408.29,255.63 388.52,255.63 382.21,260.2" fill="#8DB483"/>
<polygon points="401.98,321.19 408.29,316.62 408.29,255.63 401.98,260.2" fill="#7FA276"/>
<polygon points="382.21,260.2 401.98,260.2 408.29,255.63 388.52,255.63" fill="#8DB483"/>
<polygon points="382.21,321.19 401.98,321.19 401.98,260.2 382.21,260.2" fill="#B4DEAD"/>
<polygon points="431.04,321.19 450.82,321.19 457.13,316.62 457.13,252.53 437.35,252.53 431.04,257.1" fill="#8DB483"/>
<polygon points="450.82,321.19 457.13,316.62 457.13,252.53 450.82,257.1" fill="#7FA276"/>
<polygon points="431.04,257.1 450.82,257.1 457.13,252.53 437.35,252.53" fill="#8DB483"/>
<polygon points="431.04,321.19 450.82,321.19 450.82,257.1 431.04,257.1" fill="#B4DEAD"/>
<polygon points="316.77,333.23 336.55,333.23 342.86,328.66 342.86,268.03 323.08,268.03 316.77,272.6" fill="#C98670"/>
<polygon points="336.55,333.23 342.86,328.66 342.86,268.03 336.55,272.6" fill="url(#os)"/>
<polygon points="316.77,272.6 336.55,272.6 342.86,268.03 323.08,268.03" fill="#C98670"/>
<polygon points="316.77,333.23 336.55,333.23 336.55,272.6 316.77,272.6" fill="url(#og)"/>
<polygon points="365.61,333.23 385.38,333.23 391.69,328.66 391.69,288.53 371.92,288.53 365.61,293.1" fill="#C98670"/>
<polygon points="385.38,333.23 391.69,328.66 391.69,288.53 385.38,293.1" fill="url(#os)"/>
<polygon points="365.61,293.1 385.38,293.1 391.69,288.53 371.92,288.53" fill="#C98670"/>
<polygon points="365.61,333.23 385.38,333.23 385.38,293.1 365.61,293.1" fill="url(#og)"/>
<polygon points="414.44,333.23 434.22,333.23 440.53,328.66 440.53,280.23 420.75,280.23 414.44,284.8" fill="#C98670"/>
<polygon points="434.22,333.23 440.53,328.66 440.53,280.23 434.22,284.8" fill="url(#os)"/>
<polygon points="414.44,284.8 434.22,284.8 440.53,280.23 420.75,280.23" fill="#C98670"/>
<polygon points="414.44,333.23 434.22,333.23 434.22,284.8 414.44,284.8" fill="url(#og)"/>
<polygon points="300.17,345.27 319.95,345.27 326.26,340.69 326.26,258.83 306.48,258.83 300.17,263.4" fill="#9a9999"/>
<polygon points="319.95,345.27 326.26,340.69 326.26,258.83 319.95,263.4" fill="#8B8A8A"/>
<polygon points="300.17,263.4 319.95,263.4 326.26,258.83 306.48,258.83" fill="#999898"/>
<polygon points="300.17,345.27 319.95,345.27 319.95,263.4 300.17,263.4" fill="#D2D0D0"/>
<polygon points="349.01,345.27 368.78,345.27 375.09,340.69 375.09,242.13 355.32,242.13 349.01,246.7" fill="#9a9999"/>
<polygon points="368.78,345.27 375.09,340.69 375.09,242.13 368.78,246.7" fill="#8B8A8A"/>
<polygon points="349.01,246.7 368.78,246.7 375.09,242.13 355.32,242.13" fill="#999898"/>
<polygon points="349.01,345.27 368.78,345.27 368.78,246.7 349.01,246.7" fill="#D2D0D0"/>
<polygon points="397.84,345.27 417.62,345.27 423.93,340.69 423.93,251.03 404.15,251.03 397.84,255.6" fill="#9a9999"/>
<polygon points="417.62,345.27 423.93,340.69 423.93,251.03 417.62,255.6" fill="#8B8A8A"/>
<polygon points="397.84,255.6 417.62,255.6 423.93,251.03 404.15,251.03" fill="#999898"/>
<polygon points="397.84,345.27 417.62,345.27 417.62,255.6 397.84,255.6" fill="#D2D0D0"/>
<text transform="translate(273.6,351.3) scale(0.9500,1)" font-size="6.60" text-anchor="end">0.0</text>
<text transform="translate(273.6,341.09) scale(0.9500,1)" font-size="6.60" text-anchor="end">0.1</text>
<text transform="translate(273.6,330.88) scale(0.9500,1)" font-size="6.60" text-anchor="end">0.2</text>
<text transform="translate(273.6,320.67) scale(0.9500,1)" font-size="6.60" text-anchor="end">0.3</text>
<text transform="translate(273.6,310.46) scale(0.9500,1)" font-size="6.60" text-anchor="end">0.4</text>
<text transform="translate(273.6,300.25) scale(0.9500,1)" font-size="6.60" text-anchor="end">0.5</text>
<text transform="translate(273.6,290.04) scale(0.9500,1)" font-size="6.60" text-anchor="end">0.6</text>
<text transform="translate(273.6,279.83) scale(0.9500,1)" font-size="6.60" text-anchor="end">0.7</text>
<text transform="translate(273.6,269.62) scale(0.9500,1)" font-size="6.60" text-anchor="end">0.8</text>
<text transform="translate(273.6,259.41) scale(0.9500,1)" font-size="6.60" text-anchor="end">0.9</text>
<text transform="translate(273.6,249.2) scale(0.9500,1)" font-size="6.60" text-anchor="end">1.0</text>
<text transform="translate(304.92,358.4) scale(0.9300,1)" font-size="6.70" text-anchor="middle">Precision</text>
<text transform="translate(353.75,358.4) scale(0.9300,1)" font-size="6.70" text-anchor="middle">Recall</text>
<text transform="translate(403.28,358.4) scale(0.9000,1)" font-size="6.60" text-anchor="middle">F1-score</text>
<text transform="translate(441.8,345.38) scale(0.9300,1)" font-size="6.80" text-anchor="start">C1</text>
<text transform="translate(458.4,333.34) scale(0.9300,1)" font-size="6.80" text-anchor="start">C2</text>
<text transform="translate(475,321.31) scale(0.9300,1)" font-size="6.80" text-anchor="start">C3</text>
<text transform="translate(491.6,309.27) scale(0.9300,1)" font-size="6.80" text-anchor="start">C4</text>
<text transform="translate(290.4,205.7) scale(1.0000,1)" font-size="8.30" text-anchor="start" class="r">XGBoost</text>
<line x1="87.25" y1="488.5" x2="233.25" y2="488.5" stroke="#959595" stroke-width="1"/>
<line x1="87.25" y1="478.21" x2="233.25" y2="478.21" stroke="#959595" stroke-width="1"/>
<line x1="87.25" y1="467.92" x2="233.25" y2="467.92" stroke="#959595" stroke-width="1"/>
<line x1="87.25" y1="457.63" x2="233.25" y2="457.63" stroke="#959595" stroke-width="1"/>
<line x1="87.25" y1="447.34" x2="233.25" y2="447.34" stroke="#959595" stroke-width="1"/>
<line x1="87.25" y1="437.05" x2="233.25" y2="437.05" stroke="#959595" stroke-width="1"/>
<line x1="87.25" y1="426.76" x2="233.25" y2="426.76" stroke="#959595" stroke-width="1"/>
<line x1="87.25" y1="416.47" x2="233.25" y2="416.47" stroke="#959595" stroke-width="1"/>
<line x1="87.25" y1="406.18" x2="233.25" y2="406.18" stroke="#959595" stroke-width="1"/>
<line x1="87.25" y1="395.89" x2="233.25" y2="395.89" stroke="#959595" stroke-width="1"/>
<line x1="87.25" y1="385.6" x2="233.25" y2="385.6" stroke="#959595" stroke-width="1"/>
<line x1="135.92" y1="488.5" x2="135.92" y2="385.6" stroke="#6E6E6E" stroke-width="0.9"/>
<line x1="184.58" y1="488.5" x2="184.58" y2="385.6" stroke="#6E6E6E" stroke-width="0.9"/>
<line x1="233.25" y1="488.5" x2="233.25" y2="385.6" stroke="#8A8A8A" stroke-width="0.9"/>
<line x1="20.5" y1="536" x2="87.25" y2="488.5" stroke="#4A4A4A" stroke-width="0.8"/>
<line x1="20.5" y1="525.71" x2="87.25" y2="478.21" stroke="#4A4A4A" stroke-width="0.8"/>
<line x1="20.5" y1="515.42" x2="87.25" y2="467.92" stroke="#4A4A4A" stroke-width="0.8"/>
<line x1="20.5" y1="505.13" x2="87.25" y2="457.63" stroke="#4A4A4A" stroke-width="0.8"/>
<line x1="20.5" y1="494.84" x2="87.25" y2="447.34" stroke="#4A4A4A" stroke-width="0.8"/>
<line x1="20.5" y1="484.55" x2="87.25" y2="437.05" stroke="#4A4A4A" stroke-width="0.8"/>
<line x1="20.5" y1="474.26" x2="87.25" y2="426.76" stroke="#4A4A4A" stroke-width="0.8"/>
<line x1="20.5" y1="463.97" x2="87.25" y2="416.47" stroke="#4A4A4A" stroke-width="0.8"/>
<line x1="20.5" y1="453.68" x2="87.25" y2="406.18" stroke="#4A4A4A" stroke-width="0.8"/>
<line x1="20.5" y1="443.39" x2="87.25" y2="395.89" stroke="#4A4A4A" stroke-width="0.8"/>
<line x1="20.5" y1="433.1" x2="87.25" y2="385.6" stroke="#4A4A4A" stroke-width="0.8"/>
<line x1="20.5" y1="536" x2="20.5" y2="433.1" stroke="#555" stroke-width="0.8"/>
<line x1="37.19" y1="524.12" x2="37.19" y2="421.23" stroke="#777" stroke-width="0.8"/>
<line x1="53.88" y1="512.25" x2="53.88" y2="409.35" stroke="#777" stroke-width="0.8"/>
<line x1="70.56" y1="500.38" x2="70.56" y2="397.48" stroke="#777" stroke-width="0.8"/>
<line x1="87.25" y1="488.5" x2="87.25" y2="385.6" stroke="#8a8a8a" stroke-width="1.0"/>
<line x1="20.5" y1="536" x2="166.5" y2="536" stroke="#555" stroke-width="0.8"/>
<line x1="37.19" y1="524.12" x2="183.19" y2="524.12" stroke="#777" stroke-width="0.8"/>
<line x1="53.88" y1="512.25" x2="199.88" y2="512.25" stroke="#777" stroke-width="0.8"/>
<line x1="70.56" y1="500.38" x2="216.56" y2="500.38" stroke="#777" stroke-width="0.8"/>
<line x1="87.25" y1="488.5" x2="233.25" y2="488.5" stroke="#777" stroke-width="0.8"/>
<line x1="20.5" y1="536" x2="87.25" y2="488.5" stroke="#4A4A4A" stroke-width="0.8"/>
<line x1="69.17" y1="536" x2="135.92" y2="488.5" stroke="#4A4A4A" stroke-width="0.8"/>
<line x1="117.83" y1="536" x2="184.58" y2="488.5" stroke="#4A4A4A" stroke-width="0.8"/>
<line x1="166.5" y1="536" x2="233.25" y2="488.5" stroke="#4A4A4A" stroke-width="0.8"/>
<polygon points="90.21,496.69 109.92,496.69 116.27,492.18 116.27,393.99 96.56,393.99 90.21,398.5" fill="#7E98BB"/>
<polygon points="109.92,496.69 116.27,492.18 116.27,393.99 109.92,398.5" fill="#6D86A7"/>
<polygon points="90.21,398.5 109.92,398.5 116.27,393.99 96.56,393.99" fill="#7E98BB"/>
<polygon points="90.21,496.69 109.92,496.69 109.92,398.5 90.21,398.5" fill="#AAC5E8"/>
<polygon points="138.88,496.69 158.59,496.69 164.93,492.18 164.93,396.59 145.22,396.59 138.88,401.1" fill="#7E98BB"/>
<polygon points="158.59,496.69 164.93,492.18 164.93,396.59 158.59,401.1" fill="#6D86A7"/>
<polygon points="138.88,401.1 158.59,401.1 164.93,396.59 145.22,396.59" fill="#7E98BB"/>
<polygon points="138.88,496.69 158.59,496.69 158.59,401.1 138.88,401.1" fill="#AAC5E8"/>
<polygon points="187.55,496.69 207.26,496.69 213.6,492.18 213.6,394.89 193.89,394.89 187.55,399.4" fill="#7E98BB"/>
<polygon points="207.26,496.69 213.6,492.18 213.6,394.89 207.26,399.4" fill="#6D86A7"/>
<polygon points="187.55,399.4 207.26,399.4 213.6,394.89 193.89,394.89" fill="#7E98BB"/>
<polygon points="187.55,496.69 207.26,496.69 207.26,399.4 187.55,399.4" fill="#AAC5E8"/>
<polygon points="73.53,508.57 93.24,508.57 99.58,504.06 99.58,417.69 79.87,417.69 73.53,422.2" fill="#8DB483"/>
<polygon points="93.24,508.57 99.58,504.06 99.58,417.69 93.24,422.2" fill="#7FA276"/>
<polygon points="73.53,422.2 93.24,422.2 99.58,417.69 79.87,417.69" fill="#8DB483"/>
<polygon points="73.53,508.57 93.24,508.57 93.24,422.2 73.53,422.2" fill="#B4DEAD"/>
<polygon points="122.19,508.57 141.9,508.57 148.24,504.06 148.24,415.29 128.53,415.29 122.19,419.8" fill="#8DB483"/>
<polygon points="141.9,508.57 148.24,504.06 148.24,415.29 141.9,419.8" fill="#7FA276"/>
<polygon points="122.19,419.8 141.9,419.8 148.24,415.29 128.53,415.29" fill="#8DB483"/>
<polygon points="122.19,508.57 141.9,508.57 141.9,419.8 122.19,419.8" fill="#B4DEAD"/>
<polygon points="170.86,508.57 190.57,508.57 196.91,504.06 196.91,416.39 177.2,416.39 170.86,420.9" fill="#8DB483"/>
<polygon points="190.57,508.57 196.91,504.06 196.91,416.39 190.57,420.9" fill="#7FA276"/>
<polygon points="170.86,420.9 190.57,420.9 196.91,416.39 177.2,416.39" fill="#8DB483"/>
<polygon points="170.86,508.57 190.57,508.57 190.57,420.9 170.86,420.9" fill="#B4DEAD"/>
<polygon points="56.84,520.44 76.55,520.44 82.89,515.93 82.89,432.19 63.18,432.19 56.84,436.7" fill="#C98670"/>
<polygon points="76.55,520.44 82.89,515.93 82.89,432.19 76.55,436.7" fill="url(#os)"/>
<polygon points="56.84,436.7 76.55,436.7 82.89,432.19 63.18,432.19" fill="#C98670"/>
<polygon points="56.84,520.44 76.55,520.44 76.55,436.7 56.84,436.7" fill="url(#og)"/>
<polygon points="105.51,520.44 125.22,520.44 131.56,515.93 131.56,440.89 111.85,440.89 105.51,445.4" fill="#C98670"/>
<polygon points="125.22,520.44 131.56,515.93 131.56,440.89 125.22,445.4" fill="url(#os)"/>
<polygon points="105.51,445.4 125.22,445.4 131.56,440.89 111.85,440.89" fill="#C98670"/>
<polygon points="105.51,520.44 125.22,520.44 125.22,445.4 105.51,445.4" fill="url(#og)"/>
<polygon points="154.17,520.44 173.88,520.44 180.22,515.93 180.22,436.99 160.51,436.99 154.17,441.5" fill="#C98670"/>
<polygon points="173.88,520.44 180.22,515.93 180.22,436.99 173.88,441.5" fill="url(#os)"/>
<polygon points="154.17,441.5 173.88,441.5 180.22,436.99 160.51,436.99" fill="#C98670"/>
<polygon points="154.17,520.44 173.88,520.44 173.88,441.5 154.17,441.5" fill="url(#og)"/>
<polygon points="40.15,532.32 59.86,532.32 66.2,527.81 66.2,432.59 46.49,432.59 40.15,437.1" fill="#9a9999"/>
<polygon points="59.86,532.32 66.2,527.81 66.2,432.59 59.86,437.1" fill="#8B8A8A"/>
<polygon points="40.15,437.1 59.86,437.1 66.2,432.59 46.49,432.59" fill="#999898"/>
<polygon points="40.15,532.32 59.86,532.32 59.86,437.1 40.15,437.1" fill="#D2D0D0"/>
<polygon points="88.82,532.32 108.53,532.32 114.87,527.81 114.87,428.59 95.16,428.59 88.82,433.1" fill="#9a9999"/>
<polygon points="108.53,532.32 114.87,527.81 114.87,428.59 108.53,433.1" fill="#8B8A8A"/>
<polygon points="88.82,433.1 108.53,433.1 114.87,428.59 95.16,428.59" fill="#999898"/>
<polygon points="88.82,532.32 108.53,532.32 108.53,433.1 88.82,433.1" fill="#D2D0D0"/>
<polygon points="137.48,532.32 157.19,532.32 163.54,527.81 163.54,430.89 143.83,430.89 137.48,435.4" fill="#9a9999"/>
<polygon points="157.19,532.32 163.54,527.81 163.54,430.89 157.19,435.4" fill="#8B8A8A"/>
<polygon points="137.48,435.4 157.19,435.4 163.54,430.89 143.83,430.89" fill="#999898"/>
<polygon points="137.48,532.32 157.19,532.32 157.19,435.4 137.48,435.4" fill="#D2D0D0"/>
<text transform="translate(13.6,538.3) scale(0.9500,1)" font-size="6.60" text-anchor="end">0.0</text>
<text transform="translate(13.6,528.01) scale(0.9500,1)" font-size="6.60" text-anchor="end">0.1</text>
<text transform="translate(13.6,517.72) scale(0.9500,1)" font-size="6.60" text-anchor="end">0.2</text>
<text transform="translate(13.6,507.43) scale(0.9500,1)" font-size="6.60" text-anchor="end">0.3</text>
<text transform="translate(13.6,497.14) scale(0.9500,1)" font-size="6.60" text-anchor="end">0.4</text>
<text transform="translate(13.6,486.85) scale(0.9500,1)" font-size="6.60" text-anchor="end">0.5</text>
<text transform="translate(13.6,476.56) scale(0.9500,1)" font-size="6.60" text-anchor="end">0.6</text>
<text transform="translate(13.6,466.27) scale(0.9500,1)" font-size="6.60" text-anchor="end">0.7</text>
<text transform="translate(13.6,455.98) scale(0.9500,1)" font-size="6.60" text-anchor="end">0.8</text>
<text transform="translate(13.6,445.69) scale(0.9500,1)" font-size="6.60" text-anchor="end">0.9</text>
<text transform="translate(13.6,435.4) scale(0.9500,1)" font-size="6.60" text-anchor="end">1.0</text>
<text transform="translate(44.83,545.4) scale(0.9300,1)" font-size="6.70" text-anchor="middle">Precision</text>
<text transform="translate(93.5,545.4) scale(0.9300,1)" font-size="6.70" text-anchor="middle">Recall</text>
<text transform="translate(142.87,545.4) scale(0.9000,1)" font-size="6.60" text-anchor="middle">F1-score</text>
<text transform="translate(181.34,532.46) scale(0.9300,1)" font-size="6.80" text-anchor="start">C1</text>
<text transform="translate(198.03,520.59) scale(0.9300,1)" font-size="6.80" text-anchor="start">C2</text>
<text transform="translate(214.72,508.71) scale(0.9300,1)" font-size="6.80" text-anchor="start">C3</text>
<text transform="translate(231.41,496.84) scale(0.9300,1)" font-size="6.80" text-anchor="start">C4</text>
<text transform="translate(30,392.3) scale(1.0000,1)" font-size="8.30" text-anchor="start" class="r">CNN</text>
<line x1="357.7" y1="488.8" x2="504.2" y2="488.8" stroke="#959595" stroke-width="1"/>
<line x1="357.7" y1="478.48" x2="504.2" y2="478.48" stroke="#959595" stroke-width="1"/>
<line x1="357.7" y1="468.16" x2="504.2" y2="468.16" stroke="#959595" stroke-width="1"/>
<line x1="357.7" y1="457.84" x2="504.2" y2="457.84" stroke="#959595" stroke-width="1"/>
<line x1="357.7" y1="447.52" x2="504.2" y2="447.52" stroke="#959595" stroke-width="1"/>
<line x1="357.7" y1="437.2" x2="504.2" y2="437.2" stroke="#959595" stroke-width="1"/>
<line x1="357.7" y1="426.88" x2="504.2" y2="426.88" stroke="#959595" stroke-width="1"/>
<line x1="357.7" y1="416.56" x2="504.2" y2="416.56" stroke="#959595" stroke-width="1"/>
<line x1="357.7" y1="406.24" x2="504.2" y2="406.24" stroke="#959595" stroke-width="1"/>
<line x1="357.7" y1="395.92" x2="504.2" y2="395.92" stroke="#959595" stroke-width="1"/>
<line x1="357.7" y1="385.6" x2="504.2" y2="385.6" stroke="#959595" stroke-width="1"/>
<line x1="406.53" y1="488.8" x2="406.53" y2="385.6" stroke="#6E6E6E" stroke-width="0.9"/>
<line x1="455.37" y1="488.8" x2="455.37" y2="385.6" stroke="#6E6E6E" stroke-width="0.9"/>
<line x1="504.2" y1="488.8" x2="504.2" y2="385.6" stroke="#8A8A8A" stroke-width="0.9"/>
<line x1="291" y1="535.9" x2="357.7" y2="488.8" stroke="#4A4A4A" stroke-width="0.8"/>
<line x1="291" y1="525.58" x2="357.7" y2="478.48" stroke="#4A4A4A" stroke-width="0.8"/>
<line x1="291" y1="515.26" x2="357.7" y2="468.16" stroke="#4A4A4A" stroke-width="0.8"/>
<line x1="291" y1="504.94" x2="357.7" y2="457.84" stroke="#4A4A4A" stroke-width="0.8"/>
<line x1="291" y1="494.62" x2="357.7" y2="447.52" stroke="#4A4A4A" stroke-width="0.8"/>
<line x1="291" y1="484.3" x2="357.7" y2="437.2" stroke="#4A4A4A" stroke-width="0.8"/>
<line x1="291" y1="473.98" x2="357.7" y2="426.88" stroke="#4A4A4A" stroke-width="0.8"/>
<line x1="291" y1="463.66" x2="357.7" y2="416.56" stroke="#4A4A4A" stroke-width="0.8"/>
<line x1="291" y1="453.34" x2="357.7" y2="406.24" stroke="#4A4A4A" stroke-width="0.8"/>
<line x1="291" y1="443.02" x2="357.7" y2="395.92" stroke="#4A4A4A" stroke-width="0.8"/>
<line x1="291" y1="432.7" x2="357.7" y2="385.6" stroke="#4A4A4A" stroke-width="0.8"/>
<line x1="291" y1="535.9" x2="291" y2="432.7" stroke="#555" stroke-width="0.8"/>
<line x1="307.68" y1="524.12" x2="307.68" y2="420.93" stroke="#777" stroke-width="0.8"/>
<line x1="324.35" y1="512.35" x2="324.35" y2="409.15" stroke="#777" stroke-width="0.8"/>
<line x1="341.02" y1="500.57" x2="341.02" y2="397.38" stroke="#777" stroke-width="0.8"/>
<line x1="357.7" y1="488.8" x2="357.7" y2="385.6" stroke="#8a8a8a" stroke-width="1.0"/>
<line x1="291" y1="535.9" x2="437.5" y2="535.9" stroke="#555" stroke-width="0.8"/>
<line x1="307.68" y1="524.12" x2="454.18" y2="524.12" stroke="#777" stroke-width="0.8"/>
<line x1="324.35" y1="512.35" x2="470.85" y2="512.35" stroke="#777" stroke-width="0.8"/>
<line x1="341.02" y1="500.57" x2="487.52" y2="500.57" stroke="#777" stroke-width="0.8"/>
<line x1="357.7" y1="488.8" x2="504.2" y2="488.8" stroke="#777" stroke-width="0.8"/>
<line x1="291" y1="535.9" x2="357.7" y2="488.8" stroke="#4A4A4A" stroke-width="0.8"/>
<line x1="339.83" y1="535.9" x2="406.53" y2="488.8" stroke="#4A4A4A" stroke-width="0.8"/>
<line x1="388.67" y1="535.9" x2="455.37" y2="488.8" stroke="#4A4A4A" stroke-width="0.8"/>
<line x1="437.5" y1="535.9" x2="504.2" y2="488.8" stroke="#4A4A4A" stroke-width="0.8"/>
<polygon points="360.72,496.92 380.5,496.92 386.84,492.45 386.84,391.78 367.06,391.78 360.72,396.25" fill="#7E98BB"/>
<polygon points="380.5,496.92 386.84,492.45 386.84,391.78 380.5,396.25" fill="#6D86A7"/>
<polygon points="360.72,396.25 380.5,396.25 386.84,391.78 367.06,391.78" fill="#7E98BB"/>
<polygon points="360.72,496.92 380.5,496.92 380.5,396.25 360.72,396.25" fill="#AAC5E8"/>
<polygon points="409.56,496.92 429.33,496.92 435.67,492.45 435.67,392.23 415.89,392.23 409.56,396.7" fill="#7E98BB"/>
<polygon points="429.33,496.92 435.67,492.45 435.67,392.23 429.33,396.7" fill="#6D86A7"/>
<polygon points="409.56,396.7 429.33,396.7 435.67,392.23 415.89,392.23" fill="#7E98BB"/>
<polygon points="409.56,496.92 429.33,496.92 429.33,396.7 409.56,396.7" fill="#AAC5E8"/>
<polygon points="458.39,496.92 478.17,496.92 484.5,492.45 484.5,391.78 464.73,391.78 458.39,396.25" fill="#7E98BB"/>
<polygon points="478.17,496.92 484.5,492.45 484.5,391.78 478.17,396.25" fill="#6D86A7"/>
<polygon points="458.39,396.25 478.17,396.25 484.5,391.78 464.73,391.78" fill="#7E98BB"/>
<polygon points="458.39,496.92 478.17,496.92 478.17,396.25 458.39,396.25" fill="#AAC5E8"/>
<polygon points="344.05,508.7 363.82,508.7 370.16,504.23 370.16,409.43 350.38,409.43 344.05,413.9" fill="#8DB483"/>
<polygon points="363.82,508.7 370.16,504.23 370.16,409.43 363.82,413.9" fill="#7FA276"/>
<polygon points="344.05,413.9 363.82,413.9 370.16,409.43 350.38,409.43" fill="#8DB483"/>
<polygon points="344.05,508.7 363.82,508.7 363.82,413.9 344.05,413.9" fill="#B4DEAD"/>
<polygon points="392.88,508.7 412.66,508.7 418.99,504.23 418.99,411.43 399.22,411.43 392.88,415.9" fill="#8DB483"/>
<polygon points="412.66,508.7 418.99,504.23 418.99,411.43 412.66,415.9" fill="#7FA276"/>
<polygon points="392.88,415.9 412.66,415.9 418.99,411.43 399.22,411.43" fill="#8DB483"/>
<polygon points="392.88,508.7 412.66,508.7 412.66,415.9 392.88,415.9" fill="#B4DEAD"/>
<polygon points="441.71,508.7 461.49,508.7 467.83,504.23 467.83,410.63 448.05,410.63 441.71,415.1" fill="#8DB483"/>
<polygon points="461.49,508.7 467.83,504.23 467.83,410.63 461.49,415.1" fill="#7FA276"/>
<polygon points="441.71,415.1 461.49,415.1 467.83,410.63 448.05,410.63" fill="#8DB483"/>
<polygon points="441.71,508.7 461.49,508.7 461.49,415.1 441.71,415.1" fill="#B4DEAD"/>
<polygon points="327.37,520.47 347.15,520.47 353.49,516 353.49,427.93 333.71,427.93 327.37,432.4" fill="#C98670"/>
<polygon points="347.15,520.47 353.49,516 353.49,427.93 347.15,432.4" fill="url(#os)"/>
<polygon points="327.37,432.4 347.15,432.4 353.49,427.93 333.71,427.93" fill="#C98670"/>
<polygon points="327.37,520.47 347.15,520.47 347.15,432.4 327.37,432.4" fill="url(#og)"/>
<polygon points="376.21,520.47 395.98,520.47 402.32,516 402.32,428.53 382.54,428.53 376.21,433" fill="#C98670"/>
<polygon points="395.98,520.47 402.32,516 402.32,428.53 395.98,433" fill="url(#os)"/>
<polygon points="376.21,433 395.98,433 402.32,428.53 382.54,428.53" fill="#C98670"/>
<polygon points="376.21,520.47 395.98,520.47 395.98,433 376.21,433" fill="url(#og)"/>
<polygon points="425.04,520.47 444.82,520.47 451.15,516 451.15,428.53 431.38,428.53 425.04,433" fill="#C98670"/>
<polygon points="444.82,520.47 451.15,516 451.15,428.53 444.82,433" fill="url(#os)"/>
<polygon points="425.04,433 444.82,433 451.15,428.53 431.38,428.53" fill="#C98670"/>
<polygon points="425.04,520.47 444.82,520.47 444.82,433 425.04,433" fill="url(#og)"/>
<polygon points="310.7,532.25 330.47,532.25 336.81,527.78 336.81,429.53 317.03,429.53 310.7,434" fill="#9a9999"/>
<polygon points="330.47,532.25 336.81,527.78 336.81,429.53 330.47,434" fill="#8B8A8A"/>
<polygon points="310.7,434 330.47,434 336.81,429.53 317.03,429.53" fill="#999898"/>
<polygon points="310.7,532.25 330.47,532.25 330.47,434 310.7,434" fill="#D2D0D0"/>
<polygon points="359.53,532.25 379.31,532.25 385.64,527.78 385.64,427.63 365.87,427.63 359.53,432.1" fill="#9a9999"/>
<polygon points="379.31,532.25 385.64,527.78 385.64,427.63 379.31,432.1" fill="#8B8A8A"/>
<polygon points="359.53,432.1 379.31,432.1 385.64,427.63 365.87,427.63" fill="#999898"/>
<polygon points="359.53,532.25 379.31,532.25 379.31,432.1 359.53,432.1" fill="#D2D0D0"/>
<polygon points="408.36,532.25 428.14,532.25 434.48,527.78 434.48,428.53 414.7,428.53 408.36,433" fill="#9a9999"/>
<polygon points="428.14,532.25 434.48,527.78 434.48,428.53 428.14,433" fill="#8B8A8A"/>
<polygon points="408.36,433 428.14,433 434.48,428.53 414.7,428.53" fill="#999898"/>
<polygon points="408.36,532.25 428.14,532.25 428.14,433 408.36,433" fill="#D2D0D0"/>
<text transform="translate(284.1,538.2) scale(0.9500,1)" font-size="6.60" text-anchor="end">0.0</text>
<text transform="translate(284.1,527.88) scale(0.9500,1)" font-size="6.60" text-anchor="end">0.1</text>
<text transform="translate(284.1,517.56) scale(0.9500,1)" font-size="6.60" text-anchor="end">0.2</text>
<text transform="translate(284.1,507.24) scale(0.9500,1)" font-size="6.60" text-anchor="end">0.3</text>
<text transform="translate(284.1,496.92) scale(0.9500,1)" font-size="6.60" text-anchor="end">0.4</text>
<text transform="translate(284.1,486.6) scale(0.9500,1)" font-size="6.60" text-anchor="end">0.5</text>
<text transform="translate(284.1,476.28) scale(0.9500,1)" font-size="6.60" text-anchor="end">0.6</text>
<text transform="translate(284.1,465.96) scale(0.9500,1)" font-size="6.60" text-anchor="end">0.7</text>
<text transform="translate(284.1,455.64) scale(0.9500,1)" font-size="6.60" text-anchor="end">0.8</text>
<text transform="translate(284.1,445.32) scale(0.9500,1)" font-size="6.60" text-anchor="end">0.9</text>
<text transform="translate(284.1,435) scale(0.9500,1)" font-size="6.60" text-anchor="end">1.0</text>
<text transform="translate(315.42,545.3) scale(0.9300,1)" font-size="6.70" text-anchor="middle">Precision</text>
<text transform="translate(364.25,545.3) scale(0.9300,1)" font-size="6.70" text-anchor="middle">Recall</text>
<text transform="translate(413.78,545.3) scale(0.9000,1)" font-size="6.60" text-anchor="middle">F1-score</text>
<text transform="translate(452.34,532.41) scale(0.9300,1)" font-size="6.80" text-anchor="start">C1</text>
<text transform="translate(469.01,520.64) scale(0.9300,1)" font-size="6.80" text-anchor="start">C2</text>
<text transform="translate(485.69,508.86) scale(0.9300,1)" font-size="6.80" text-anchor="start">C3</text>
<text transform="translate(502.36,497.09) scale(0.9300,1)" font-size="6.80" text-anchor="start">C4</text>
<text transform="translate(291.85,392.1) scale(1.0000,1)" font-size="8.30" text-anchor="start" class="r">EEMD-CNN</text>
</g>
</svg>
</body></html>
